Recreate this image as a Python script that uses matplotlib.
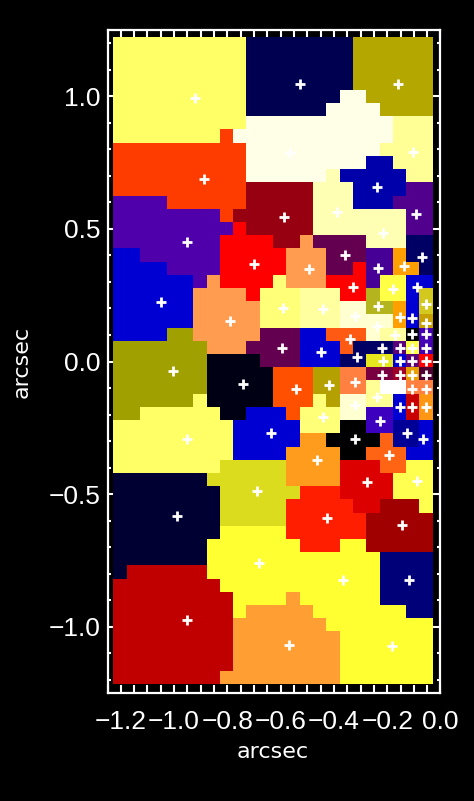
import numpy as np
import matplotlib
matplotlib.use('Agg')
import matplotlib.pyplot as plt
from matplotlib.colors import ListedColormap

# Voronoi bin map, one character per spaxel (top row first)
bin_rows = [
    "AAAAAAAAAABBBBBBBBCCCCCC",
    "AAAAAAAAAABBBBBBBBCCCCCC",
    "AAAAAAAAAABBBBBBBBCCCCCC",
    "AAAAAAAAAABBBBBBBBCCCCCC",
    "AAAAAAAAAABBBBBBBDDCCCCC",
    "AAAAAAAAAABBBBBBDDDDCCCC",
    "AAAAAAAAAADDDDDDDDDDDEEE",
    "AAAAAAAAFDDDDDDDDDDDDEEE",
    "FFFFFFFFFFDDDDDDDDDDEEEE",
    "FFFFFFFFFFDDDDDDDDDIIEEE",
    "FFFFFFFFFFDDDDDDKIIIIIEE",
    "FFFFFFFFFFGGGGGKKKIIIIJJ",
    "HHHHFFFFFFGGGGGKKKIIIJJJ",
    "HHHHHHHHFGGGGGGKKKKKKKJJ",
    "HHHHHHHHHRGGGGGKKKKKKKJJ",
    "HHHHHHHHRRRRGGPQQQQKKKNN",
    "SSHHHHHHRRRRRPPPQQQUUVNN",
    "SSSSHHHHRRRRRPPPQQRUUVVN",
    "SSSSSSHPRRRRWPPPRRRUYYSS",
    "SSSSSSPPPPRWWWLLLRRXYYSZ",
    "SSSSSSPPPPPWWWLLLMMXXVSZ",
    "SSSSSSPPPPPWWWLLLMMMMVSg",
    "SSSSOOPPPPPQQQSSTTTMLL0p",
    "OOOOOOOPPPQQQQSSSTNNNuYp",
    "OOOOOOOkkkkQQQSSSNNyySuR",
    "OOOOOOOkkkkkaaaooqqmmden",
    "OOOOOOOkkkkkaaaooqqEwwqq",
    "OOOOOOAkkkkkaaaWoMMEESrt",
    "OOAAAAAAkkSSSaWWWMMbbSrt",
    "AAAAAAAAASSSSSWWW00bbccS",
    "AAAAAAAAASSSSSff0000hccS",
    "AAAAAAAAASSSSffff00hhhSS",
    "AAAAAAAAzzzzzffffssshhii",
    "vvvvvvvzzzzzzffffssssiii",
    "vvvvvvvvzzzzzzxxxssssiii",
    "vvvvvvvvzzzzzxxxxxssjjji",
    "vvvvvvvvzzzzzxxxxxxjjjjj",
    "vvvvvvvvlllllxxxxxxjjjjj",
    "vvvvvvvlllllllxxxlljjjjj",
    "vvvvvvvlllllllllllll1111",
    "v222222lllllllllllll1111",
    "22222222llllllllllll1111",
    "222222222llll3llllll1111",
    "222222222l33333lllllll11",
    "2222222223333333llllllll",
    "22222222233333333lllllll",
    "22222222233333333lllllll",
    "22222222233333333lllllll",
    "22222222333333333lllllll",
]

bin_colors = {
    'A': '#FFFF66', 'B': '#000050', 'C': '#B4A800', 'D': '#FFFFE8', 'E': '#FFFF96',
    'F': '#FF3C00', 'G': '#960010', 'H': '#5000AA', 'I': '#0000AA', 'J': '#50008C',
    'K': '#FFFFB4', 'R': '#FF0000', 'P': '#FF9C50', 'Q': '#640050', 'S': '#0000D2',
    'N': '#000064', 'U': '#460096', 'V': '#FFA000', 'Y': '#FFFF46', 'W': '#FFFF78',
    'X': '#B4B41E', 'Z': '#D2C81E', 'L': '#FFFFA0', 'M': '#FFFFD2', 'g': '#C8A000',
    'O': '#A0A000', 'T': '#FF5A14', 'k': '#000014', 'u': '#5A0078', 'p': '#4600B4',
    'y': '#E6E61E', 'a': '#FF5000', 'o': '#B4A000', 'q': '#FF8040', 'm': '#780040',
    'd': '#A00028', 'e': '#E6A000', 'n': '#500032', 'w': '#FFFFFF', 'r': '#C80000',
    't': '#FF9614', 'b': '#3C00BE', 'c': '#000096', '0': '#000000', 'f': '#FF9C1E',
    'h': '#FF6414', 'z': '#DCDC1E', 's': '#DC0000', 'i': '#FFFF50', 'v': '#000032',
    'x': '#FF1E00', 'j': '#A00000', 'l': '#FFFF32', '1': '#000078', '2': '#C00000',
    '3': '#FF9E32',
}

# bin centroids (arcsec)
cen_x = [-0.922, -0.527, -0.158, -0.565, -0.104, -0.888, -0.237, -0.587, -0.387, -0.092,
         -0.953, -0.215, -0.357, -0.071, -0.699, -0.494, -0.236, -0.136, -0.330, -0.089,
         -0.179, -1.049, -0.592, -0.442, -0.056, -0.236, -0.790, -0.321, -0.152, -0.108,
         -0.056, -0.239, -0.171, -0.108, -0.056, -0.340, -0.596, -0.218, -0.152, -0.108,
         -0.056, -0.449, -0.315, -0.217, -0.152, -0.108, -0.056, -1.005, -0.221, -0.152,
         -0.108, -0.056, -0.740, -0.321, -0.417, -0.544, -0.108, -0.056, -0.237, -0.321,
         -0.152, -0.108, -0.056, -0.442, -0.227, -0.636, -0.127, -0.950, -0.321, -0.065,
         -0.194, -0.465, -0.089, -0.277, -0.688, -0.143, -0.425, -0.988, -0.680, -0.365,
         -0.117, -0.953, -0.570, -0.183]
cen_y = [0.992, 1.045, 1.045, 0.786, 0.791, 0.688, 0.658, 0.546, 0.565, 0.556,
         0.452, 0.483, 0.400, 0.395, 0.368, 0.350, 0.354, 0.360, 0.282, 0.281,
         0.273, 0.223, 0.203, 0.197, 0.216, 0.209, 0.154, 0.173, 0.169, 0.164,
         0.146, 0.134, 0.100, 0.103, 0.103, 0.086, 0.050, 0.050, 0.050, 0.050,
         0.050, 0.035, 0.018, 0.002, 0.002, 0.002, 0.002, -0.035, -0.051, -0.051,
         -0.051, -0.051, -0.084, -0.077, -0.089, -0.103, -0.103, -0.103, -0.133, -0.164,
         -0.170, -0.170, -0.170, -0.208, -0.223, -0.268, -0.268, -0.291, -0.293, -0.293,
         -0.351, -0.370, -0.449, -0.455, -0.488, -0.617, -0.591, -0.581, -0.761, -0.824,
         -0.824, -0.976, -1.068, -1.074]

x_major = [-1.2, -1.0, -0.8, -0.6, -0.4, -0.2, 0.0]
x_labels = ['\u22121.2', '\u22121.0', '\u22120.8', '\u22120.6', '\u22120.4', '\u22120.2', '0.0']
y_major = [-1.0, -0.5, 0.0, 0.5, 1.0]
y_labels = ['\u22121.0', '\u22120.5', '0.0', '0.5', '1.0']

keys = list(bin_colors)
grid = np.array([[keys.index(c) for c in row] for row in bin_rows])
cmap = ListedColormap([bin_colors[k] for k in keys])

x_edges = np.linspace(-1.228, -0.029, grid.shape[1] + 1)
y_edges = np.linspace(1.2236, -1.2172, grid.shape[0] + 1)

W, H = 474, 801
fig = plt.figure(figsize=(W / 100, H / 100), dpi=100, facecolor='black')
ax = fig.add_axes([107.5 / W, 1 - 693 / H, 333 / W, 663 / H], facecolor='black')

ax.pcolormesh(x_edges, y_edges, grid, cmap=cmap, vmin=-0.5, vmax=len(keys) - 0.5, zorder=1)
ax.plot(cen_x, cen_y, '+', color='white', ms=7.5, mew=2.0, zorder=3)

ax.set_xlim(-1.25, 0.0)
ax.set_ylim(-1.25, 1.25)
ax.set_axisbelow(True)

ax.set_xticks(x_major)
ax.set_xticklabels(x_labels)
ax.set_xticks(np.arange(-1.25, 0.001, 0.05), minor=True)
ax.set_yticks(y_major)
ax.set_yticklabels(y_labels)
ax.set_yticks(np.arange(-1.2, 1.21, 0.1), minor=True)

ax.tick_params(axis='x', which='both', direction='in', top=True, bottom=True, colors='white',
               length=6, width=1.5, pad=12, labelsize=19)
ax.tick_params(axis='y', which='major', direction='in', left=True, right=True, colors='white',
               length=6, width=1.5, pad=5, labelsize=19)
ax.tick_params(axis='y', which='minor', direction='in', left=True, right=True, colors='white',
               length=2.5, width=1.5)
for lab in ax.get_xticklabels() + ax.get_yticklabels():
    lab.set_family('Liberation Sans')

for sp in ax.spines.values():
    sp.set_color('white')
    sp.set_linewidth(1.6)

ax.set_xlabel('arcsec', color='white', fontsize=16)
ax.set_ylabel('arcsec', color='white', fontsize=16)
ax.xaxis.set_label_coords(0.497, -0.0885)
ax.yaxis.set_label_coords(-0.257, 0.5)
ax.xaxis.label.set_va('center')
ax.yaxis.label.set_va('center')

plt.savefig('out.png', dpi=100, facecolor='black')
plt.close('all')
